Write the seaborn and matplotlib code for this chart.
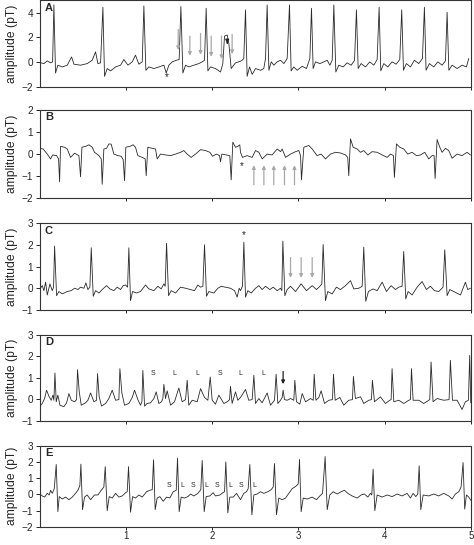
import pandas as pd
import matplotlib
matplotlib.use("Agg")
import matplotlib.pyplot as plt
import seaborn as sns

sns.set_style("ticks")
plt.rcParams["font.family"] = ["Liberation Sans", "DejaVu Sans"]

# ---- panel A: time (s) and amplitude (pT)
a_t = [0.004, 0.050, 0.089, 0.127, 0.151, 0.166, 0.185, 0.212, 0.263, 0.321,
       0.371, 0.398, 0.475, 0.552, 0.610, 0.649, 0.676, 0.707, 0.734, 0.753,
       0.784, 0.823, 0.881, 0.939, 0.977, 1.024, 1.074, 1.112, 1.151, 1.190,
       1.209, 1.232, 1.267, 1.325, 1.383, 1.441, 1.468, 1.499, 1.537, 1.587,
       1.618, 1.638, 1.661, 1.692, 1.730, 1.788, 1.846, 1.885, 1.912, 1.931,
       1.951, 1.981, 2.039, 2.097, 2.124, 2.144, 2.175, 2.194, 2.221, 2.271,
       2.329,
       2.348, 2.367, 2.387, 2.406, 2.434, 2.465, 2.503, 2.561, 2.599, 2.619,
       2.638, 2.658, 2.685, 2.716, 2.754, 2.793, 2.832, 2.870, 2.897, 2.916,
       2.947, 2.986, 3.044, 3.094, 3.133, 3.152, 3.171, 3.199, 3.249, 3.295,
       3.334, 3.365, 3.392, 3.411, 3.434, 3.469, 3.519, 3.565, 3.612, 3.651,
       3.673, 3.693, 3.727, 3.778, 3.828, 3.874, 3.913, 3.936, 3.955, 3.990,
       4.036, 4.086, 4.133, 4.175, 4.198, 4.218, 4.252, 4.299, 4.345, 4.395,
       4.438, 4.461, 4.480, 4.519, 4.569, 4.616, 4.666, 4.705, 4.724, 4.744,
       4.782, 4.840, 4.898, 4.948, 4.975]
a_v = [-0.03, -0.11, 0.11, -0.05, 0.03, 4.63, -0.87, -0.24, -0.38, -0.24,
       0.43, -0.16, -0.24, -0.11, 0.16, 0.84, -0.11, -0.05, 4.44, -1.14,
       -0.51, -0.70, -0.38, -0.24, 0.22, -0.24, 0.03, 0.57, -0.16, 0.03,
       4.55, -0.65, -0.38, -0.51, -0.38, -0.24, -0.87, -0.24, 0.03, 0.16,
       0.22, 4.50, -0.87, -0.24, -0.38, -0.24, -0.11, 0.03, 0.16, 4.36,
       -0.70, -0.38, -0.51, -0.79, -0.11, 2.11, 2.20, 1.52, -0.51, -0.05,
       0.08,
       0.16, 0.30, 4.23, -1.14, -0.38, -0.98, -0.51, -0.65, -0.51, 0.30,
       4.63, -0.65, 0.03, -0.24, 0.03, 0.16, -0.11, 0.30, 4.63, -0.70,
       -0.38, -0.65, -0.33, -0.51, 0.30, 4.36, -0.51, 0.03, -0.11, 0.03,
       0.16, -0.24, 0.16, 4.63, -0.79, -0.24, -0.38, -0.05, -0.24, 0.16,
       4.23, -0.51, -0.11, -0.38, 0.03, -0.24, 0.22, 4.44, -0.70, -0.11,
       -0.38, 0.03, -0.16, 0.22, 4.23, -0.65, -0.11, -0.38, 0.16, -0.11,
       0.30, 4.44, -0.65, -0.11, -0.38, 0.03, -0.24, 0.11, 4.04, -0.65,
       -0.24, -0.51, -0.24, -0.38, 0.30]

# ---- panel B
b_t = [0.004, 0.042, 0.089, 0.127, 0.151, 0.197, 0.220, 0.232, 0.243, 0.290,
       0.321, 0.359, 0.406, 0.456, 0.475, 0.491, 0.533, 0.572, 0.610, 0.637,
       0.688, 0.715, 0.726, 0.745, 0.776, 0.803, 0.830, 0.861, 0.908, 0.946,
       0.969, 0.985, 1.000, 1.047, 1.085, 1.112, 1.139, 1.190, 1.224, 1.236,
       1.255, 1.306, 1.344, 1.363, 1.402, 1.460, 1.518, 1.576, 1.634, 1.672,
       1.711, 1.757, 1.808, 1.866, 1.923, 1.974, 2.005, 2.051, 2.086, 2.097,
       2.113, 2.167, 2.205, 2.221, 2.240, 2.271, 2.298, 2.321,
       2.329, 2.352, 2.406, 2.464, 2.503, 2.542, 2.581, 2.638, 2.696, 2.754,
       2.793, 2.812, 2.851, 2.909, 2.967, 3.005, 3.025, 3.036, 3.063, 3.121,
       3.160, 3.217, 3.264, 3.314, 3.372, 3.430, 3.488, 3.546, 3.572, 3.584,
       3.604, 3.635, 3.681, 3.720, 3.758, 3.805, 3.855, 3.913, 3.971, 4.029,
       4.067, 4.102, 4.113, 4.137, 4.175, 4.222, 4.268, 4.318, 4.369, 4.415,
       4.465, 4.511, 4.550, 4.573, 4.585, 4.608, 4.639, 4.666, 4.705, 4.743,
       4.782, 4.840, 4.897, 4.955, 4.995]
b_v = [0.24, 0.21, -0.02, -0.24, -0.06, -0.09, -0.24, -1.28, 0.33, 0.29,
       0.21, -0.17, 0.02, -0.09, -1.05, 0.29, 0.33, 0.40, 0.29, 0.06,
       -0.09, -0.24, -1.39, 0.21, 0.24, 0.44, 0.43, -0.02, -0.09, -0.12,
       -0.27, -1.23, 0.29, 0.33, 0.40, 0.29, -0.09, -0.17, -0.24, -1.00,
       0.29, 0.24, 0.21, -0.24, -0.02, -0.06, -0.09, -0.02, 0.06, 0.14,
       -0.02, -0.17, -0.02, 0.18, 0.14, 0.06, -0.12, -0.02, -0.09, -0.37,
       -0.02, -0.06, -0.09, -1.19, 0.52, 0.29, 0.33, 0.40,
       0.06, -0.17, -0.09, -0.17, 0.14, 0.06, -0.24, -0.02, -0.06, 0.21,
       0.09, 0.21, -0.17, -0.02, 0.09, 0.14, -0.09, -1.19, 0.29, 0.37,
       0.21, -0.09, -0.02, -0.24, -0.02, 0.06, 0.03, -0.06, -0.17, -1.00,
       0.67, 0.29, 0.21, 0.06, 0.14, -0.06, 0.09, 0.06, -0.06, -0.17,
       -0.02, -0.09, -1.08, 0.44, 0.29, 0.21, -0.02, 0.06, -0.09, -0.06,
       0.06, -0.24, -0.09, -0.09, -1.13, 0.64, 0.29, 0.06, 0.24, 0.14,
       -0.21, -0.02, -0.09, 0.06, -0.06]

# ---- panel C
c_t = [0.004, 0.031, 0.050, 0.070, 0.089, 0.120, 0.147, 0.162, 0.174, 0.197,
       0.224, 0.263, 0.321, 0.367, 0.406, 0.444, 0.475, 0.514, 0.537, 0.560,
       0.583, 0.599, 0.622, 0.649, 0.688, 0.726, 0.776, 0.815, 0.861, 0.900,
       0.939, 0.969, 0.997, 1.020, 1.035, 1.054, 1.078, 1.124, 1.170, 1.228,
       1.267, 1.325, 1.371, 1.410, 1.441, 1.456, 1.472, 1.495, 1.526, 1.576,
       1.634, 1.692, 1.750, 1.796, 1.835, 1.866, 1.893, 1.912, 1.935, 1.962,
       2.020, 2.066, 2.105, 2.155, 2.213, 2.260, 2.290, 2.314,
       2.329, 2.352, 2.368, 2.387, 2.414, 2.453, 2.503, 2.542, 2.580, 2.619,
       2.669, 2.708, 2.754, 2.793, 2.808, 2.820, 2.843, 2.870, 2.909, 2.967,
       3.032, 3.094, 3.160, 3.210, 3.249, 3.272, 3.287, 3.314, 3.341, 3.391,
       3.441, 3.488, 3.546, 3.604, 3.642, 3.700, 3.739, 3.758, 3.781, 3.812,
       3.866, 3.913, 3.971, 4.021, 4.075, 4.125, 4.164, 4.202, 4.221, 4.245,
       4.272, 4.318, 4.376, 4.434, 4.484, 4.531, 4.577, 4.627, 4.677, 4.697,
       4.724, 4.755, 4.801, 4.879, 4.936, 4.963, 4.994]
c_v = [-0.03, 0.12, -0.11, 0.28, -0.31, 0.20, -0.11, 0.05, 1.94, -0.34,
       -0.15, -0.26, -0.15, -0.11, 0.00, -0.06, 0.05, 0.00, 0.25, -0.06,
       0.05, 1.86, -0.37, -0.11, -0.22, -0.06, 0.12, -0.03, -0.11, 0.05,
       -0.06, 0.12, 0.15, 0.05, 1.86, -0.57, -0.15, -0.22, -0.15, 0.15,
       -0.03, -0.11, 0.09, -0.03, 0.20, 0.09, 2.07, -0.34, -0.11, -0.22,
       0.05, 0.00, -0.06, -0.11, 0.15, 0.05, 0.09, 2.00, -0.37, -0.15,
       -0.22, 0.00, 0.09, 0.05, 0.00, -0.11, -0.41, 0.00,
       -0.11, 0.09, 2.12, -0.41, -0.11, -0.22, 0.00, 0.12, -0.06, 0.09,
       -0.06, 0.05, -0.11, 0.00, -0.11, 2.17, -0.34, -0.06, 0.09, -0.15,
       0.20, -0.11, 0.12, -0.06, 0.09, 0.20, 2.01, -0.57, -0.15, -0.26,
       0.05, -0.06, 0.12, 0.35, -0.03, 0.00, 0.09, 1.89, -0.60, -0.15,
       -0.03, -0.11, 0.28, -0.15, 0.12, -0.06, 0.05, 0.09, 1.69, -0.49,
       -0.15, -0.31, 0.05, 0.31, -0.06, 0.09, -0.11, -0.15, 0.05, 1.77,
       -0.34, -0.06, -0.15, -0.31, 0.28, -0.06, 0.00]

# ---- panel D
d_t = [0.004, 0.031, 0.058, 0.081, 0.108, 0.135, 0.155, 0.166, 0.178, 0.193,
       0.212, 0.236, 0.282, 0.313, 0.340, 0.367, 0.406, 0.429, 0.440, 0.460,
       0.483, 0.533, 0.560, 0.591, 0.630, 0.660, 0.672, 0.691, 0.718, 0.765,
       0.803, 0.842, 0.881, 0.919, 0.931, 0.954, 0.985, 1.035, 1.074, 1.101,
       1.139, 1.170, 1.186, 1.197, 1.217, 1.247, 1.286, 1.325, 1.352, 1.383,
       1.414, 1.429, 1.441, 1.460, 1.479, 1.518, 1.564, 1.614, 1.653, 1.692,
       1.711, 1.730, 1.769, 1.827, 1.866, 1.912, 1.951, 1.978, 2.001, 2.039,
       2.078, 2.109, 2.136, 2.175, 2.202, 2.213, 2.232, 2.271, 2.298,
       2.329, 2.387, 2.425, 2.464, 2.484, 2.503, 2.542, 2.580, 2.638, 2.677,
       2.723, 2.742, 2.762, 2.793, 2.812, 2.823, 2.839, 2.870, 2.909, 2.947,
       2.959, 2.978, 3.017, 3.044, 3.083, 3.141, 3.172, 3.183, 3.203, 3.237,
       3.264, 3.303, 3.353, 3.395, 3.407, 3.426, 3.480, 3.526, 3.584, 3.627,
       3.638, 3.661, 3.720, 3.758, 3.816, 3.847, 3.858, 3.882, 3.951, 4.009,
       4.059, 4.075, 4.086, 4.106, 4.164, 4.222, 4.280, 4.299, 4.311, 4.330,
       4.396, 4.453, 4.523, 4.538, 4.561, 4.608, 4.685, 4.747, 4.762, 4.786,
       4.840, 4.897, 4.936, 4.971, 4.986, 4.998]
d_v = [-0.32, -0.20, 0.03, 0.42, 0.14, -0.05, 0.19, -0.05, 1.22, -0.12,
       0.19, -0.28, -0.35, -0.17, 0.26, -0.05, -0.12, -0.02, 1.37, 0.34,
       -0.28, -0.17, -0.05, 0.29, -0.12, -0.05, 1.19, 0.11, -0.32, -0.20,
       0.03, 0.42, -0.05, -0.02, 1.42, 0.29, -0.28, -0.20, 0.08, 0.42,
       -0.02, -0.28, -0.12, 1.34, -0.32, -0.20, -0.17, 0.03, 0.34, -0.20,
       -0.12, 0.03, 0.69, 0.03, 0.39, -0.28, -0.12, 0.52, -0.12, -0.02,
       0.88, -0.28, -0.05, -0.12, 0.49, 0.08, -0.05, 1.03, -0.05, -0.23,
       0.19, -0.02, -0.20, -0.12, -0.02, 0.60, -0.20, 0.34, -0.05,
       0.08, 0.45, -0.05, -0.02, 1.11, -0.20, 0.03, -0.17, 0.29, -0.28,
       -0.05, 1.16, -0.20, -0.05, 0.08, 0.42, -0.02, -0.05, 0.03, -0.05,
       0.88, -0.12, -0.23, 0.26, -0.12, 0.03, -0.05, 1.16, -0.05, 0.08,
       0.39, -0.20, -0.05, -0.02, 1.16, -0.05, 0.08, -0.28, -0.05, -0.02,
       1.06, 0.03, 0.11, -0.20, -0.05, -0.02, 0.88, -0.12, 0.11, -0.20,
       -0.05, -0.02, 1.42, -0.12, -0.05, -0.20, -0.05, -0.02, 1.42, -0.05,
       -0.05, -0.20, -0.02, 1.73, -0.12, 0.03, -0.05, -0.02, 1.81, -0.05,
       -0.05, -0.48, -0.12, -0.05, 2.04, -0.17]

# ---- panel E
e_t = [0.004, 0.031, 0.058, 0.089, 0.112, 0.127, 0.147, 0.170, 0.193, 0.212,
       0.228, 0.263, 0.301, 0.340, 0.379, 0.417, 0.444, 0.467, 0.479, 0.498,
       0.521, 0.552, 0.591, 0.637, 0.676, 0.715, 0.745, 0.761, 0.784, 0.807,
       0.842, 0.881, 0.919, 0.958, 0.997, 1.016, 1.031, 1.054, 1.078, 1.112,
       1.151, 1.190, 1.240, 1.278, 1.306, 1.321, 1.340, 1.363, 1.394, 1.433,
       1.472, 1.510, 1.549, 1.584, 1.599, 1.618, 1.641, 1.680, 1.719, 1.750,
       1.788, 1.835, 1.869, 1.885, 1.908, 1.931, 1.974, 2.012, 2.039, 2.090,
       2.124, 2.144, 2.159, 2.182, 2.205, 2.244, 2.283,
       2.329, 2.367, 2.399, 2.418, 2.437, 2.461, 2.484, 2.522, 2.561, 2.600,
       2.646, 2.685, 2.708, 2.723, 2.746, 2.773, 2.812, 2.851, 2.889, 2.928,
       2.967, 2.998, 3.013, 3.032, 3.056, 3.102, 3.160, 3.210, 3.249, 3.280,
       3.310, 3.334, 3.364, 3.403, 3.449, 3.496, 3.534, 3.573, 3.623, 3.681,
       3.727, 3.766, 3.805, 3.835, 3.851, 3.866, 3.886, 3.913, 3.971, 4.029,
       4.087, 4.144, 4.202, 4.260, 4.299, 4.330, 4.361, 4.384, 4.400, 4.419,
       4.446, 4.512, 4.569, 4.627, 4.685, 4.743, 4.782, 4.820, 4.859, 4.886,
       4.909, 4.928, 4.948, 4.975, 4.998]
e_v = [0.02, -0.10, -0.17, 0.06, -0.04, 0.25, 0.06, 0.35, 1.84, -1.07,
       -0.14, -0.29, -0.17, -0.33, -0.17, 0.06, 0.25, 0.54, 1.86, -0.95,
       -0.17, -0.04, -0.33, -0.04, -0.04, 0.25, 0.45, 1.71, -1.01, -0.14,
       -0.23, 0.06, -0.17, -0.10, 0.10, 0.16, 1.71, -1.10, -0.14, -0.23,
       -0.04, -0.17, 0.16, 0.25, 0.29, 2.13, -0.95, -0.23, -0.14, -0.43,
       -0.17, -0.23, 0.16, 0.25, 2.23, -1.07, -0.17, -0.23, -0.14, 0.02,
       -0.10, 0.06, 0.29, 2.09, -1.07, -0.14, -0.10, 0.10, -0.10, -0.04,
       0.10, 0.16, 2.00, -1.14, -0.17, -0.17, 0.06,
       -0.33, 0.06, 0.16, 0.35, 1.84, -1.26, -0.04, 0.02, 0.16, 0.06,
       0.16, 0.29, 0.45, 1.90, -1.26, -0.23, -0.33, -0.23, 0.06, 0.35,
       0.48, 0.64, 2.15, -1.07, -0.23, -0.29, -0.17, -0.33, -0.10, 0.06,
       2.33, -0.95, -0.04, 0.16, 0.02, 0.16, 0.25, 0.06, -0.10, -0.23,
       -0.04, 0.02, -0.17, 0.06, -0.04, 1.55, -1.01, -0.04, -0.17, -0.04,
       -0.14, 0.02, -0.10, 0.06, -0.23, 0.06, -0.14, 0.02, 1.76, -0.95,
       -0.04, -0.10, 0.02, -0.10, 0.06, -0.10, -0.29, 0.02, 0.16, 0.45,
       1.96, -0.91, -0.04, -0.17, -0.37]

# ---- markers and labels
a_star = (1.479, -1.19)
a_arrow_t = [1.607, 1.742, 1.866, 1.989, 2.109, 2.232]
a_arrow_from = [2.87, 2.33, 2.55, 2.33, 2.33, 2.47]
a_arrow_to = [0.76, 0.30, 0.38, 0.22, 0.03, 0.43]
a_dark_arrow = (2.175, 1.79, 1.30)

b_star = (2.348, -0.55)
b_arrow_t = [2.484, 2.600, 2.715, 2.839, 2.955]
b_arrow_from, b_arrow_to = -1.54, -0.40

c_star = (2.368, 2.43)
c_arrow_t = [2.909, 3.032, 3.160]
c_arrow_from, c_arrow_to = 1.54, 0.35

d_dark_arrow = (2.823, 1.42, 0.57)
d_lab_t = [1.317, 1.568, 1.827, 2.090, 2.329, 2.599]
d_lab = ["S", "L", "L", "S", "L", "L"]
d_lab_y = 1.19

e_lab_t = [1.499, 1.653, 1.777, 1.935, 2.059, 2.213, 2.337, 2.491]
e_lab = ["S", "L", "S", "L", "S", "L", "S", "L"]
e_lab_y = 0.54

panels = [
    ("A", a_t, a_v, (-2, 5), [-2, 0, 2, 4], 0.8404, 0.1590),
    ("B", b_t, b_v, (-2, 2), [-2, -1, 0, 1, 2], 0.6372, 0.1618),
    ("C", c_t, c_v, (-1, 3), [-1, 0, 1, 2, 3], 0.4312, 0.1596),
    ("D", d_t, d_v, (-1, 3), [-1, 0, 1, 2, 3], 0.2281, 0.1578),
    ("E", e_t, e_v, (-2, 3), [-2, -1, 0, 1, 2, 3], 0.0335, 0.1487),
]

fig = plt.figure(figsize=(4.74, 5.45), dpi=100)
axes = {}
for name, t, v, ylim, yticks, bottom, height in panels:
    ax = fig.add_axes([0.0835, bottom, 0.910, height])
    df = pd.DataFrame({"time": t, "amp": v})
    sns.lineplot(data=df, x="time", y="amp", ax=ax, color="#2a2a2a",
                 linewidth=0.6, estimator=None, sort=False)
    ax.set_xlim(0, 5)
    ax.set_ylim(*ylim)
    ax.set_yticks(yticks)
    ax.set_xticks([1, 2, 3, 4, 5])
    ax.set_xlabel("")
    ax.set_ylabel("amplitude (pT)", fontsize=8.7, labelpad=3)
    ax.tick_params(axis="y", labelsize=7.2, length=3, width=0.7, pad=1.5)
    ax.tick_params(axis="x", labelsize=7, length=2.5, width=0.7, pad=0.5)
    if name != "E":
        ax.set_xticklabels([])
    for s in ax.spines.values():
        s.set_linewidth(0.8)
        s.set_color("#333333")
    ax.text(0.012, 0.97, name, transform=ax.transAxes, ha="left", va="top",
            fontsize=8, fontweight="bold")
    axes[name] = ax

gray_arrow = dict(arrowstyle="-|>", color="#a8a8a8", lw=0.9, mutation_scale=5)
dark_arrow = dict(arrowstyle="-|>", color="#1e1e1e", lw=0.9, mutation_scale=5)

ax = axes["A"]
ax.text(*a_star, "*", ha="center", va="center", fontsize=7)
for t, y0, y1 in zip(a_arrow_t, a_arrow_from, a_arrow_to):
    ax.annotate("", xy=(t, y1), xytext=(t, y0), arrowprops=gray_arrow)
ax.annotate("", xy=(a_dark_arrow[0], a_dark_arrow[2]),
            xytext=(a_dark_arrow[0], a_dark_arrow[1]), arrowprops=dark_arrow)

ax = axes["B"]
ax.text(*b_star, "*", ha="center", va="center", fontsize=7)
for t in b_arrow_t:
    ax.annotate("", xy=(t, b_arrow_to), xytext=(t, b_arrow_from),
                arrowprops=gray_arrow)

ax = axes["C"]
ax.text(*c_star, "*", ha="center", va="center", fontsize=7)
for t in c_arrow_t:
    ax.annotate("", xy=(t, c_arrow_to), xytext=(t, c_arrow_from),
                arrowprops=gray_arrow)

ax = axes["D"]
ax.annotate("", xy=(d_dark_arrow[0], d_dark_arrow[2]),
            xytext=(d_dark_arrow[0], d_dark_arrow[1]), arrowprops=dark_arrow)
for t, lab in zip(d_lab_t, d_lab):
    ax.text(t, d_lab_y, lab, ha="center", va="center", fontsize=5)

ax = axes["E"]
for t, lab in zip(e_lab_t, e_lab):
    ax.text(t, e_lab_y, lab, ha="center", va="center", fontsize=5)

fig.savefig("out.png", dpi=100)
